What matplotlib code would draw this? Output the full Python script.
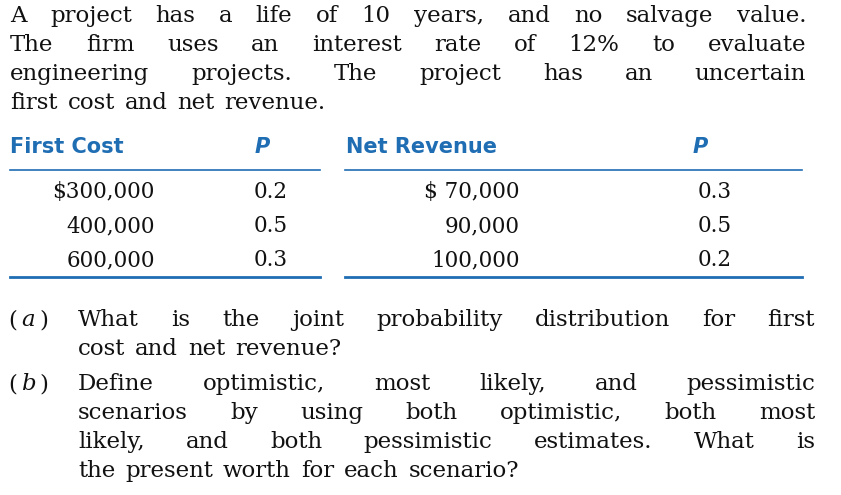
import matplotlib
matplotlib.use("Agg")
import matplotlib.pyplot as plt

W, H = 841, 495
intro = ["A project has a life of 10 years, and no salvage value.",
         "The firm uses an interest rate of 12% to evaluate",
         "engineering projects. The project has an uncertain",
         "first cost and net revenue."]
first_cost = ["$300,000", "400,000", "600,000"]
p_cost = ["0.2", "0.5", "0.3"]
net_rev = ["$ 70,000", "90,000", "100,000"]
p_rev = ["0.3", "0.5", "0.2"]
qa = ["What is the joint probability distribution for first", "cost and net revenue?"]
qb = ["Define optimistic, most likely, and pessimistic",
      "scenarios by using both optimistic, both most",
      "likely, and both pessimistic estimates. What is",
      "the present worth for each scenario?"]

blue = "#1f6db3"
fig = plt.figure(figsize=(W/100, H/100), dpi=100)
fig.patch.set_facecolor("white")
renderer = fig.canvas.get_renderer()
SERIF = "DejaVu Serif"
FS = 16.5

def T(x, y, s, **kw):
    kw.setdefault("family", SERIF)
    kw.setdefault("fontsize", FS)
    kw.setdefault("va", "center")
    kw.setdefault("color", "#111111")
    return fig.text(x/W, 1-y/H, s, **kw)

def J(x0, x1, y, s, justify=True):
    words = s.split()
    arts = [T(x0, y, w) for w in words]
    widths = [a.get_window_extent(renderer).width for a in arts]
    space = T(0, -100, "a b").get_window_extent(renderer).width - \
        2*T(0, -100, "a").get_window_extent(renderer).width
    if justify and len(words) > 1:
        gap = (x1 - x0 - sum(widths)) / (len(words)-1)
    else:
        gap = space * 1.2
    x = x0
    for a, w in zip(arts, widths):
        a.set_x(x/W)
        x += w + gap

def L(x0, x1, y, lw=2):
    fig.add_artist(plt.Line2D([x0/W, x1/W], [1-y/H, 1-y/H], color=blue, lw=lw))

for i, s in enumerate(intro):
    J(10, 806, 16+29*i, s, justify=i < 3)

hdr = dict(family="DejaVu Sans", fontweight="bold", color=blue, fontsize=15)
T(10, 147, "First Cost", **hdr)
T(262, 147, "P", ha="center", style="italic", **hdr)
T(346, 147, "Net Revenue", **hdr)
T(700, 147, "P", ha="center", style="italic", **hdr)
L(10, 320, 170, 1.2); L(345, 802, 170, 1.2)
L(10, 320, 277); L(345, 802, 277)
rows = [192, 226, 260]
for i, y in enumerate(rows):
    T(155, y, first_cost[i], ha="right", fontsize=15.5)
    T(271, y, p_cost[i], ha="center", fontsize=15.5)
    T(520, y, net_rev[i], ha="right", fontsize=15.5)
    T(715, y, p_rev[i], ha="center", fontsize=15.5)

for lab, y in (("a", 320), ("b", 384)):
    T(8, y, "("); T(21, y, lab, style="italic"); T(39, y, ")")
for i, s in enumerate(qa):
    J(78, 815, 320+29*i, s, justify=i < len(qa)-1)
for i, s in enumerate(qb):
    J(78, 815, 384+29*i, s, justify=i < len(qb)-1)

fig.savefig("out.png", dpi=100, facecolor="white")
